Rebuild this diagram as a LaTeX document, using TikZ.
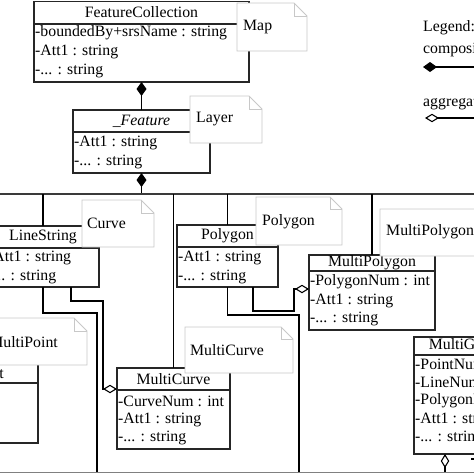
\documentclass[tikz,border=0pt]{standalone}
\usepackage{fontspec}
\setmainfont{Liberation Serif}
\usetikzlibrary{arrows.meta}
\definecolor{clsline}{HTML}{262626}
\definecolor{noteline}{HTML}{C8C8C8}
\definecolor{busline}{HTML}{3A3A3A}
\newcommand\umlnote[5]{%
  \draw[notebox] (#1,#2) -- ({#3-#5},#2) -- (#3,{#2+#5}) -- (#3,#4) -- (#1,#4) -- cycle;
  \draw[notebox, fill=none] ({#3-#5},#2) -- ({#3-#5},{#2+#5}) -- (#3,{#2+#5});
}
\begin{document}
\begin{tikzpicture}[x=1pt,y=-1pt,
  cls/.style={draw=clsline, line width=1.1pt, fill=white, inner sep=0pt, outer sep=0pt, anchor=north west},
  sep/.style={draw=clsline, line width=1.1pt},
  txt/.style={font=\fontsize{15.8}{19}\selectfont, inner sep=0pt, text=black},
  hdr/.style={txt, anchor=center},
  att/.style={txt, anchor=west},
  conn/.style={draw=black, line width=1.1pt},
  bus/.style={draw=busline, line width=1.6pt},
  comp/.style={conn, {Diamond[length=14pt,width=10pt]}-},
  aggr/.style={conn, -{Diamond[open,length=14pt,width=8.5pt,fill=white]}},
  aggrs/.style={conn, {Diamond[open,length=14pt,width=8.5pt,fill=white]}-},
  notebox/.style={draw=noteline, line width=0.9pt, fill=white},
  notetxt/.style={txt, anchor=west}
]
\useasboundingbox (0,0) rectangle (474,474);
\clip (0,0) rectangle (474,474);

% ---------- classes ----------
% FeatureCollection
\node[cls, minimum width=215pt, minimum height=80.5pt] (fc) at (34,1.5) {};
\draw[sep] (34,24) -- (249,24);
\node[hdr] (fcT) at (141.5,12.5) {FeatureCollection};
\node[att] (fcA1) at (35,33) {-boundedBy+srsName : string};
\node[att] (fcA2) at (35,52) {-Att1 : string};
\node[att] (fcA3) at (35,71) {-... : string};

% _Feature
\node[cls, minimum width=137pt, minimum height=63pt] (feat) at (73,110) {};
\draw[sep] (73,132) -- (210,132);
\node[hdr] (featT) at (141.5,121) {\textit{\_Feature}};
\node[att] (featA1) at (74,143) {-Att1 : string};
\node[att] (featA2) at (74,162) {-... : string};

% LineString
\node[cls, minimum width=112pt, minimum height=61pt] (ls) at (-13,226) {};
\draw[sep] (-13,248) -- (99,248);
\node[hdr] (lsT) at (43,237) {LineString};
\node[att] (lsA1) at (-12,258) {-Att1 : string};
\node[att] (lsA2) at (-12,277) {-... : string};

% Polygon
\node[cls, minimum width=101pt, minimum height=62pt] (pg) at (177,225) {};
\draw[sep] (177,247) -- (278,247);
\node[hdr] (pgT) at (227.5,236) {Polygon};
\node[att] (pgA1) at (178,258) {-Att1 : string};
\node[att] (pgA2) at (178,277) {-... : string};

% MultiPolygon
\node[cls, minimum width=126pt, minimum height=75pt] (mp) at (309,255) {};
\draw[sep] (309,271) -- (435,271);
\node[hdr] (mpT) at (372,262.5) {MultiPolygon};
\node[att] (mpA1) at (310,282) {-PolygonNum : int};
\node[att] (mpA2) at (310,300.5) {-Att1 : string};
\node[att] (mpA3) at (310,319) {-... : string};

% MultiCurve
\node[cls, minimum width=113pt, minimum height=81pt] (mc) at (117,368) {};
\draw[sep] (117,390) -- (230,390);
\node[hdr] (mcT) at (173.5,379.5) {MultiCurve};
\node[att] (mcA1) at (118,401) {-CurveNum : int};
\node[att] (mcA2) at (118,419.5) {-Att1 : string};
\node[att] (mcA3) at (118,438) {-... : string};

% MultiGeometry
\node[cls, minimum width=128pt, minimum height=117pt] (mg) at (414,337) {};
\draw[sep] (414,355) -- (542,355);
\node[hdr] (mgT) at (478,346) {MultiGeometry};
\node[att] (mgA1) at (415,364) {-PointNum : int};
\node[att] (mgA2) at (415,382.5) {-LineNum : int};
\node[att] (mgA3) at (415,401) {-PolygonNum : int};
\node[att] (mgA4) at (415,419.5) {-Att1 : string};
\node[att] (mgA5) at (415,438) {-... : string};

% MultiPoint
\node[cls, minimum width=131pt, minimum height=81pt] (mpt) at (-93,362) {};
\draw[sep] (-93,383) -- (38,383);
\node[hdr] (mptT) at (-30.5,373) {MultiPoint};

% ---------- connectors ----------
\coordinate (busL) at (0,194);
\coordinate (busR) at (474,194);
\draw[comp] (fc.south) -- (feat.north);
\draw[comp] (feat.south) -- (feat.south |- busL);
\draw[bus] (busL) -- (busR);
\draw[conn] (ls.north |- busL) -- (ls.north);
\draw[conn] (mc.north |- busL) -- (mc.north);
\draw[conn] (pg.north |- busL) -- (pg.north);
\draw[conn] (mp.north |- busL) -- (mp.north);

% LineString -> MultiCurve (aggregation)
\coordinate (k1) at (103,389);
\draw[aggr] ([xshift=28pt]ls.south) -- ++(0,14) -- (103,301) -- (k1) -- (k1 -| mc.west);
% Polygon -> MultiPolygon (aggregation)
\coordinate (k2) at (294,289);
\draw[aggr] ([xshift=25.5pt]pg.south) -- ++(0,24) -- (294,311) -- (k2) -- (k2 -| mp.west);
% lines toward the bottom
\coordinate (bot1) at (97,472);
\coordinate (bot2) at (299,472);
\coordinate (bot3) at (445,472);
\draw[conn] (ls.south) -- (43,313) -- (97,313) -- (bot1);
\draw[conn] (pg.south) -- (227.5,315) -- (299,315) -- (bot2);
\draw[aggrs] (bot3 |- mg.south) -- (bot3);
\draw[draw=gray, line width=1.4pt] (0,472.5) -- (474,472.5);
\draw[conn] (471,459) -- (474,459);

% ---------- notes ----------
\umlnote{237}{3}{307}{51}{13}
\node[notetxt] (nMap) at (243,27) {Map};
\umlnote{190}{96}{262}{143}{13}
\node[notetxt] (nLayer) at (196,119) {Layer};
\umlnote{82}{200}{154}{247}{13}
\node[notetxt] (nCurve) at (87,223) {Curve};
\umlnote{256}{197}{342}{245}{12}
\node[notetxt] (nPolygon) at (262,222) {Polygon};
\umlnote{380}{209}{492}{256}{13}
\node[notetxt] (nMPoly) at (386,232) {MultiPolygon};
\umlnote{-20}{318}{87}{365}{13}
\node[txt, anchor=east] (nMPoint) at (58,342) {MultiPoint};
\umlnote{185}{327}{293}{373}{12}
\node[notetxt] (nMCurve) at (190,350) {MultiCurve};

% ---------- legend ----------
\node[notetxt] (lg) at (423,28) {Legend:};
\node[notetxt] (lgc) at (423,50) {composition:};
\coordinate (lc1) at (423,67);
\coordinate (lc2) at (474,67);
\draw[comp] (lc1) -- (lc2);
\node[notetxt] (lga) at (423,103) {aggregation:};
\coordinate (la1) at (425,118);
\coordinate (la2) at (474,118);
\draw[aggrs] (la1) -- (la2);
\end{tikzpicture}
\end{document}
